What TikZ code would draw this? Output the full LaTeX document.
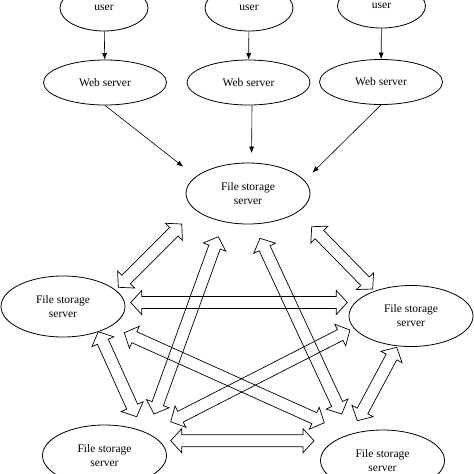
\documentclass[tikz,border=0pt]{standalone}
\usepackage{fontspec}
\setmainfont{Liberation Serif}
\usetikzlibrary{arrows.meta,calc,shapes.geometric}

\tikzset{
  box/.style={ellipse,draw,line width=0.8pt,inner sep=0pt,align=center,
    font=\fontsize{11.5}{14}\selectfont},
  usernode/.style={box,minimum width=88pt,minimum height=46pt},
  webnode/.style={box,minimum width=123pt,minimum height=45pt},
  storenode/.style={box,minimum width=124pt,minimum height=61pt},
  link/.style={-{Latex[length=6.5pt,width=5pt]},line width=0.6pt},
  fatarrow/.style={line width=0.7pt,line join=miter}
}
% hollow double-headed arrow between two points
\newcommand\dualarrow[2]{%
  \coordinate (da) at ($#1$);
  \coordinate (db) at ($#2$);
  \draw[fatarrow] (da) -- ($(da)!11pt!(db)!12pt!90:(db)$) -- ($(da)!11pt!(db)!6pt!90:(db)$)
    -- ($(db)!11pt!(da)!6pt!270:(da)$) -- ($(db)!11pt!(da)!12pt!270:(da)$) -- (db)
    -- ($(db)!11pt!(da)!12pt!90:(da)$) -- ($(db)!11pt!(da)!6pt!90:(da)$)
    -- ($(da)!11pt!(db)!6pt!270:(db)$) -- ($(da)!11pt!(db)!12pt!270:(db)$) -- cycle;
}

\begin{document}
\begin{tikzpicture}[x=1pt,y=-1pt]
  \useasboundingbox (0,0) rectangle (474,474);
  % users and web servers
  \node[usernode] (u1) at (104,8) {user};
  \node[usernode] (u2) at (249,8) {user};
  \node[usernode,minimum height=44pt] (u3) at (381.5,6) {user};
  \node[webnode] (w1) at (105,82.5) {Web server};
  \node[webnode] (w2) at (248.5,82.5) {Web server};
  \node[webnode] (w3) at (381,82) {Web server};
  % storage servers
  \node[storenode] (fs) at (248,193.5) {File storage\\server};
  \node[storenode] (fsl) at (63,306.5) {File storage\\server};
  \node[storenode] (fsr) at (411,316) {File storage\\server};
  \node[storenode] (fsbl) at (104.5,455.5) {File storage\\server};
  \node[storenode] (fsbr) at (382.5,460.5) {File storage\\server};

  \draw[link] (u1) -- (w1);
  \draw[link] (u2) -- (w2);
  \draw[link] (u3) -- (w3);
  \draw[link,shorten >=16pt] (w1.south) -- (fs.162);
  \draw[link,shorten >=9.5pt] ([xshift=3.5pt]w2.south) -- ([xshift=3.5pt]fs.north);
  \draw[link,shorten >=11pt] (w3.south) -- (fs.13);

  % links between storage servers
  \dualarrow{(fs)+(-66.3,30.5)}{(fsl)+(55.3,-19.2)}
  \dualarrow{(fs)+(63.7,33.2)}{(fsr)+(-38.3,-27)}
  \dualarrow{(fsl)+(67.7,-4)}{(fsr)+(-63.7,-13.5)}
  \dualarrow{(fs)+(-29.7,43.2)}{(fsbl)+(49.5,-41.5)}
  \dualarrow{(fs)+(12,44.8)}{(fsbr)+(-40.8,-46.5)}
  \dualarrow{(fsl)+(35.3,25.2)}{(fsbl)+(32.2,-38.8)}
  \dualarrow{(fsr)+(-14.3,31.3)}{(fsbr)+(-25.2,-39.8)}
  \dualarrow{(fsl)+(61.3,26.2)}{(fsbr)+(-58.2,-37.8)}
  \dualarrow{(fsr)+(-61,14)}{(fsbl)+(66.2,-33.8)}
  \dualarrow{(fsbl)+(66.2,-14.8)}{(fsbr)+(-68.5,-19.8)}
\end{tikzpicture}
\end{document}
